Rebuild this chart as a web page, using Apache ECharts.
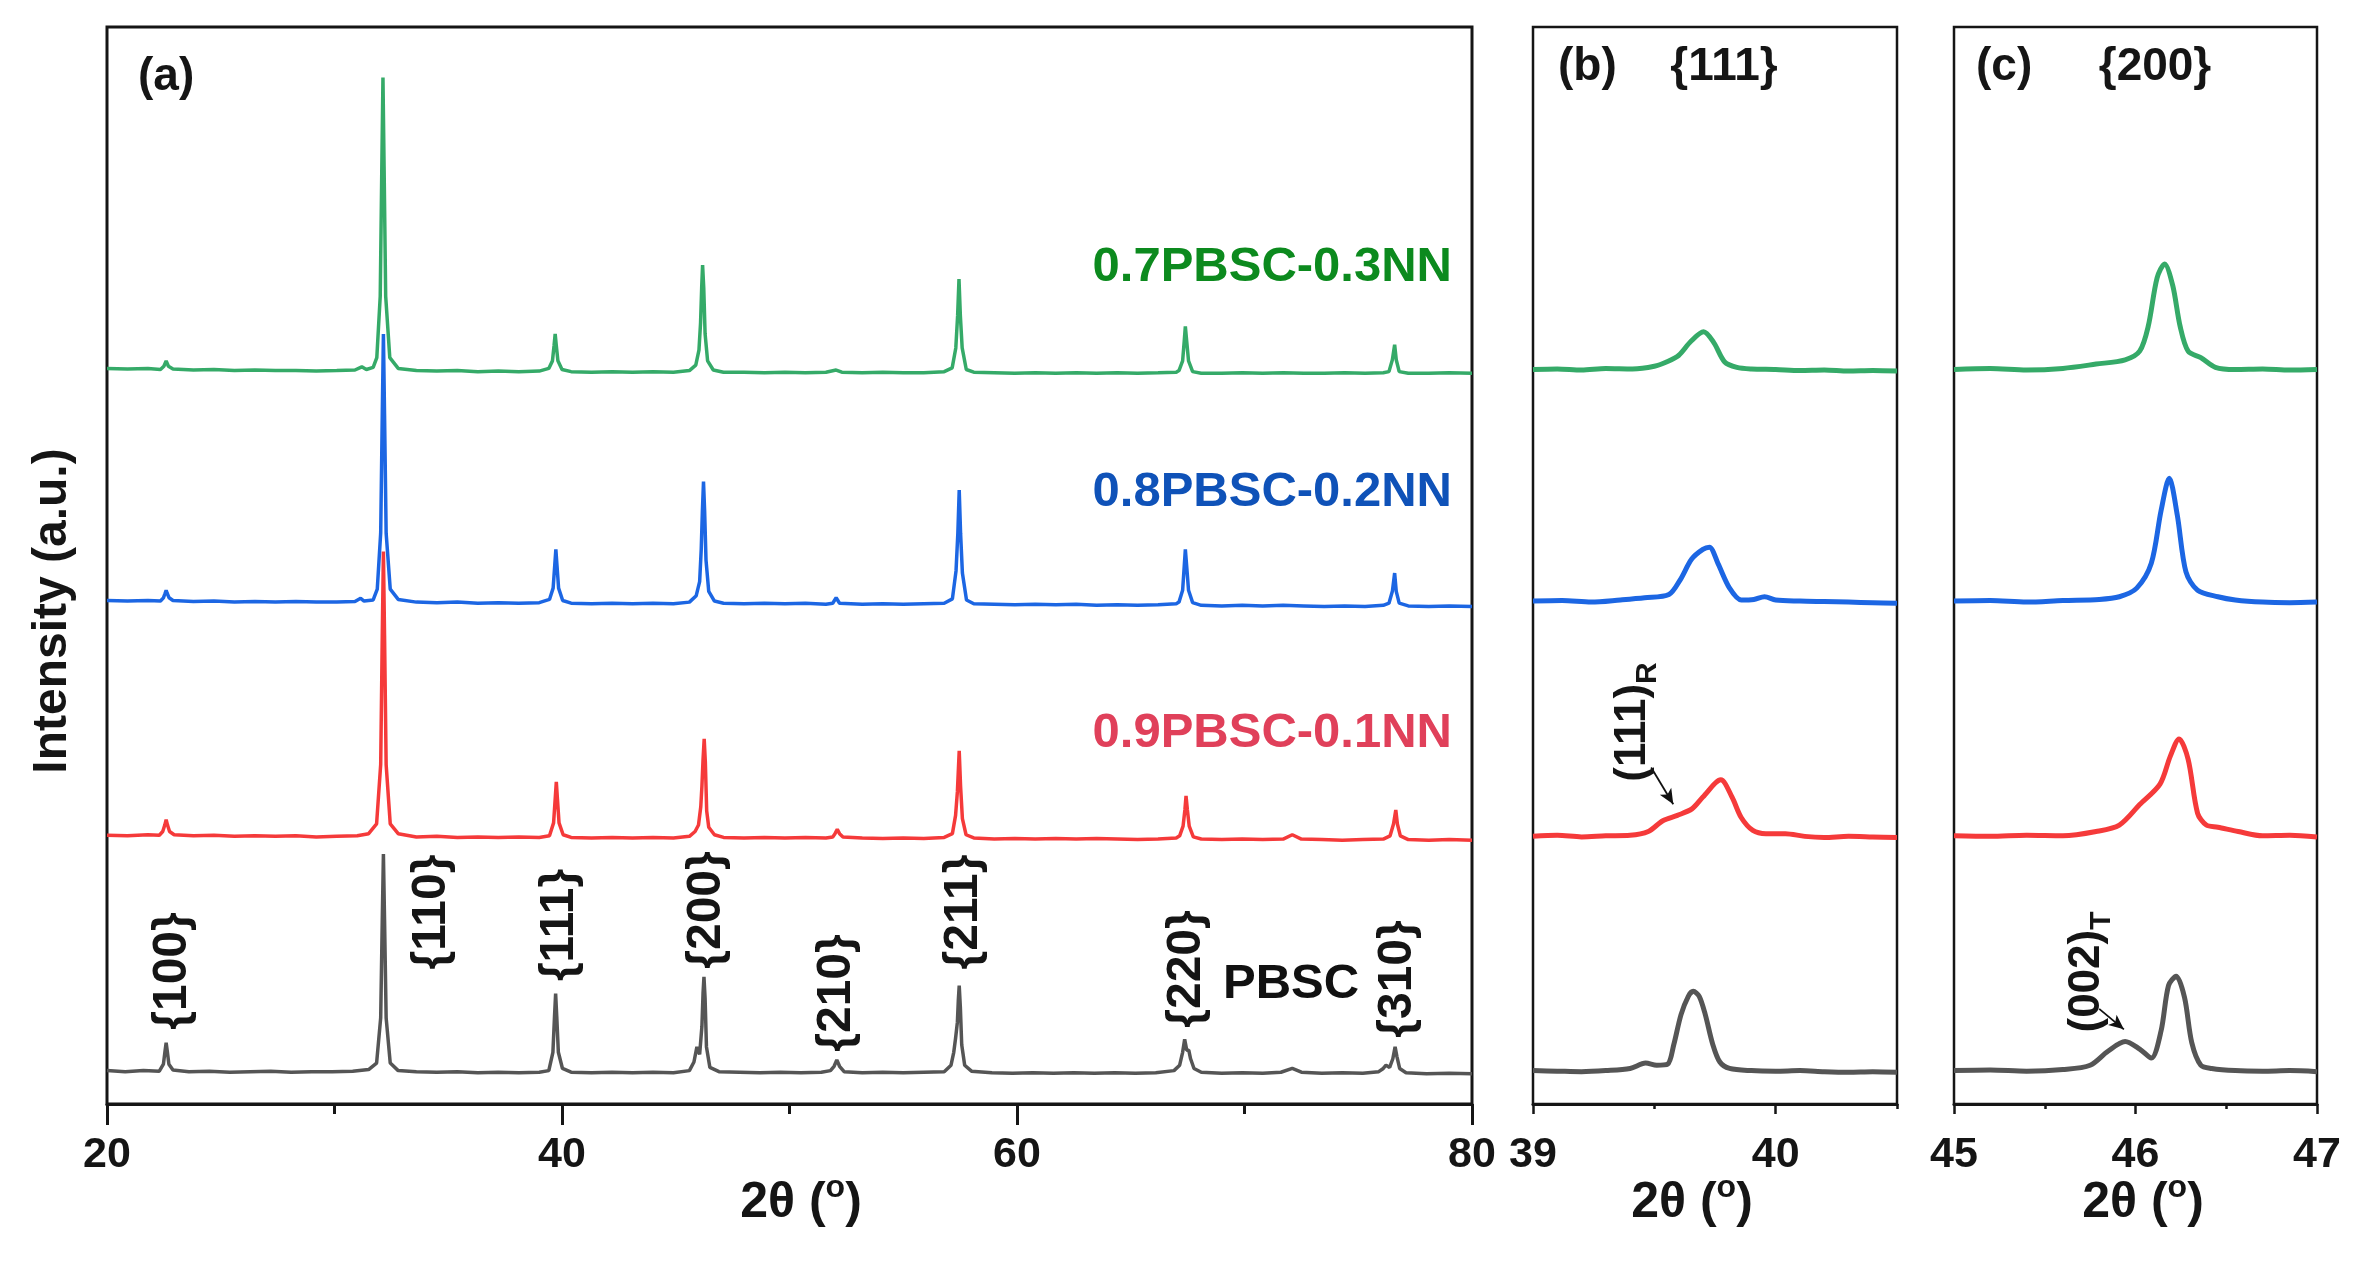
<!DOCTYPE html>
<html>
<head>
<meta charset="utf-8">
<script src="https://cdn.jsdelivr.net/npm/echarts@6/dist/echarts.min.js"></script>
<style>
html,body{margin:0;padding:0;background:#fff;}
#chart{width:2366px;height:1262px;}
</style>
</head>
<body>
<div id="chart"></div>
<script>
// ---------- names / ticks ----------
const seriesNames = ['PBSC', '0.9PBSC-0.1NN', '0.8PBSC-0.2NN', '0.7PBSC-0.3NN'];
const lineColors = ['#555555', '#f53a3a', '#1c66e3', '#35aa68'];
const labelColors = ['#111111', '#e0405a', '#0f52b8', '#0c8a1e'];
const ticksA = [20, 40, 60, 80];
const ticksB = [39, 40];
const ticksC = [45, 46, 47];
const hklLabels = ['{100}', '{110}', '{111}', '{200}', '{210}', '{211}', '{220}', '{310}'];

// ---------- panel (a): full patterns, [2theta, offset intensity] ----------
const a_PBSC = [
[20,3.1],[20.8,3.0],[21.6,3.1],[22.3,3.05],[22.48,3.7],[22.55,4.9],[22.6,5.7],[22.65,4.9],[22.72,3.7],[22.9,3.15],
[23.6,3.0],[24.5,3.05],[25.4,2.95],[26.3,3.0],[27.2,3.05],[28.1,2.95],[29,3.0],[29.9,3.0],[30.8,3.05],[31.5,3.2],
[31.85,3.8],[32.03,8.0],[32.1,17.1],[32.15,23.2],[32.2,17.1],[32.27,8.0],[32.45,3.8],[32.8,3.1],
[33.6,3.0],[34.5,2.95],[35.4,3.0],[36.3,2.9],[37.2,2.95],[38.1,2.9],[39,2.95],[39.42,3.1],
[39.6,4.8],[39.67,8.1],[39.72,10.26],[39.77,8.1],[39.84,4.8],[40.02,3.3],[40.4,2.95],
[41.3,2.9],[42.2,2.95],[43.1,2.9],[44,2.95],[44.9,2.9],[45.6,3.1],
[45.8,3.9],[45.93,5.3],[46.05,4.6],[46.15,7.2],[46.2,10.3],[46.24,11.8],[46.29,9.8],[46.35,5.3],[46.5,3.4],[46.9,3.0],
[47.8,2.95],[48.7,2.9],[49.6,2.95],[50.5,2.9],[51.4,2.95],
[51.8,3.1],[51.96,3.5],[52.08,4.1],[52.2,3.5],[52.4,3.0],
[53.2,2.9],[54.1,2.95],[55,2.9],[55.9,2.95],[56.8,3.0],
[57.1,3.6],[57.22,4.8],[57.3,6.1],[57.38,7.6],[57.42,9.6],[57.46,11.0],[57.51,9.0],[57.57,5.5],[57.7,3.6],[58,3.05],
[58.9,2.9],[59.8,2.85],[60.7,2.9],[61.6,2.85],[62.5,2.9],[63.4,2.85],[64.3,2.9],[65.2,2.85],[66.1,2.9],[66.9,3.1],
[67.15,3.6],[67.28,4.8],[67.37,6.0],[67.46,5.0],[67.55,5.0],[67.63,4.2],[67.78,3.3],[68.1,2.95],
[69,2.85],[69.9,2.9],[70.8,2.85],[71.6,2.95],[72.1,3.3],[72.5,2.95],[73.4,2.85],[74.3,2.9],[75.2,2.85],[75.9,3.0],
[76.1,3.3],[76.22,3.6],[76.38,3.4],[76.52,4.2],[76.62,5.3],[76.7,4.4],[76.82,3.3],[77.1,2.9],
[78,2.8],[79,2.85],[80,2.8]
];
const a_09 = [
[20,24.95],[20.9,24.9],[21.8,25.0],[22.3,24.95],[22.45,25.3],[22.54,25.9],[22.6,26.4],[22.66,25.9],[22.75,25.3],[22.95,25.0],
[23.8,24.9],[24.7,24.95],[25.6,24.85],[26.5,24.9],[27.4,24.85],[28.3,24.9],[29.2,24.8],[30.1,24.85],[31,24.9],[31.5,25.1],
[31.85,26.0],[32.03,31.5],[32.1,43.5],[32.15,51.3],[32.2,43.5],[32.27,31.5],[32.45,26.0],[32.8,25.1],
[33.6,24.8],[34.5,24.85],[35.4,24.75],[36.3,24.8],[37.2,24.75],[38.1,24.8],[39,24.75],[39.45,24.9],
[39.63,26.1],[39.7,28.3],[39.75,29.9],[39.8,28.3],[39.87,26.1],[40.05,25.0],[40.4,24.75],
[41.3,24.7],[42.2,24.75],[43.1,24.7],[44,24.75],[44.9,24.7],[45.6,24.85],
[45.85,25.3],[46.0,25.9],[46.1,27.6],[46.15,29.5],[46.2,32.0],[46.25,33.9],[46.3,31.8],[46.36,27.2],[46.45,25.7],[46.7,25.0],[47.1,24.75],
[48,24.7],[48.9,24.75],[49.8,24.7],[50.7,24.75],[51.6,24.7],
[51.9,24.8],[52.0,25.1],[52.1,25.5],[52.2,25.1],[52.35,24.8],
[53.2,24.7],[54.1,24.65],[55,24.7],[55.9,24.65],[56.8,24.75],
[57.16,25.1],[57.3,26.8],[57.38,29.0],[57.46,32.8],[57.52,29.5],[57.6,26.5],[57.76,25.0],[58.1,24.7],
[59,24.6],[59.9,24.65],[60.8,24.6],[61.7,24.65],[62.6,24.6],[63.5,24.65],[64.4,24.6],[65.3,24.55],[66.2,24.6],[67,24.7],
[67.15,24.9],[67.3,25.8],[67.38,27.3],[67.43,28.6],[67.49,27.3],[67.57,25.8],[67.75,24.8],[68.1,24.6],
[69,24.55],[69.9,24.6],[70.8,24.55],[71.7,24.6],[72.1,25.0],[72.5,24.6],[73.4,24.55],[74.3,24.5],[75.2,24.55],[76.1,24.6],
[76.4,24.9],[76.55,26.0],[76.65,27.3],[76.72,26.0],[76.85,24.9],[77.2,24.55],
[78.1,24.5],[79,24.55],[80,24.5]
];
const a_08 = [
[20,46.75],[20.9,46.7],[21.8,46.75],[22.35,46.7],[22.48,47.0],[22.55,47.4],[22.6,47.7],[22.65,47.4],[22.73,47.0],[22.9,46.75],
[23.8,46.65],[24.7,46.7],[25.6,46.6],[26.5,46.65],[27.4,46.6],[28.3,46.65],[29.2,46.6],[30.1,46.6],[30.9,46.65],[31.15,46.95],[31.3,46.7],[31.7,46.8],
[31.88,47.8],[32.03,53.0],[32.1,64.0],[32.15,71.5],[32.2,64.0],[32.27,53.0],[32.45,47.8],[32.8,46.85],
[33.6,46.6],[34.5,46.55],[35.4,46.6],[36.3,46.5],[37.2,46.55],[38.1,46.5],[39,46.55],[39.45,46.85],
[39.61,47.9],[39.68,50.0],[39.73,51.5],[39.78,50.0],[39.85,47.9],[40.03,46.75],[40.4,46.5],
[41.3,46.45],[42.2,46.5],[43.1,46.45],[44,46.5],[44.9,46.45],[45.6,46.6],
[45.9,47.2],[46.05,48.5],[46.12,51.5],[46.17,55.0],[46.22,57.8],[46.27,55.0],[46.33,50.5],[46.45,47.6],[46.7,46.7],[47.1,46.5],
[48,46.45],[48.9,46.5],[49.8,46.45],[50.7,46.5],[51.6,46.4],
[51.9,46.5],[52.05,47.0],[52.2,46.5],
[53.2,46.4],[54.1,46.45],[55,46.4],[55.9,46.45],[56.8,46.5],
[57.16,46.9],[57.32,49.5],[57.4,53.0],[57.46,57.0],[57.52,53.0],[57.6,49.3],[57.78,46.8],[58.1,46.45],
[59,46.4],[59.9,46.35],[60.8,46.4],[61.7,46.35],[62.6,46.4],[63.5,46.3],[64.4,46.35],[65.3,46.3],[66.2,46.35],[67,46.45],
[67.12,46.6],[67.28,47.7],[67.35,49.9],[67.4,51.5],[67.46,49.9],[67.54,47.7],[67.72,46.55],[68.1,46.3],
[69,46.25],[69.9,46.3],[70.8,46.25],[71.7,46.3],[72.6,46.25],[73.5,46.2],[74.4,46.25],[75.3,46.2],[76.1,46.3],
[76.35,46.5],[76.5,47.6],[76.6,49.3],[76.67,47.6],[76.8,46.5],[77.2,46.25],
[78.1,46.2],[79,46.25],[80,46.2]
];
const a_07 = [
[20,68.3],[20.9,68.25],[21.8,68.3],[22.35,68.2],[22.5,68.5],[22.6,69.0],[22.7,68.5],[22.9,68.25],
[23.8,68.15],[24.7,68.2],[25.6,68.1],[26.5,68.15],[27.4,68.1],[28.3,68.1],[29.2,68.05],[30.1,68.1],[30.9,68.15],[31.2,68.45],[31.4,68.2],[31.7,68.4],
[31.86,69.3],[32.01,75.0],[32.08,87.0],[32.13,95.3],[32.18,87.0],[32.25,75.0],[32.43,69.3],[32.8,68.3],
[33.6,68.1],[34.5,68.05],[35.4,68.1],[36.3,68.0],[37.2,68.05],[38.1,68.0],[39,68.05],[39.42,68.3],
[39.58,69.0],[39.65,70.4],[39.7,71.5],[39.75,70.4],[39.82,69.0],[40.0,68.2],[40.4,68.0],
[41.3,67.95],[42.2,68.0],[43.1,67.95],[44,68.0],[44.9,67.95],[45.6,68.1],
[45.88,68.6],[46.02,70.0],[46.09,72.5],[46.14,75.8],[46.18,77.9],[46.23,75.8],[46.29,71.5],[46.4,69.0],[46.65,68.15],[47.1,67.95],
[48,67.95],[48.9,67.9],[49.8,67.95],[50.7,67.9],[51.6,67.95],[52.05,68.15],[52.3,67.95],
[53.2,67.9],[54.1,67.95],[55,67.9],[55.9,67.9],[56.8,68.0],
[57.15,68.35],[57.31,70.2],[57.39,73.2],[57.45,76.6],[57.51,73.2],[57.59,70.2],[57.77,68.2],[58.1,67.95],
[59,67.9],[59.9,67.85],[60.8,67.9],[61.7,67.85],[62.6,67.9],[63.5,67.85],[64.4,67.9],[65.3,67.85],[66.2,67.9],[67,67.95],
[67.12,68.1],[67.28,69.0],[67.35,70.8],[67.4,72.2],[67.46,70.8],[67.54,69.0],[67.72,68.0],[68.1,67.85],
[69,67.85],[69.9,67.9],[70.8,67.85],[71.7,67.9],[72.6,67.85],[73.5,67.85],[74.4,67.9],[75.3,67.85],[76.1,67.9],
[76.35,68.0],[76.5,69.1],[76.6,70.5],[76.67,69.1],[76.8,68.0],[77.2,67.85],
[78.1,67.85],[79,67.9],[80,67.85]
];

// ---------- panel (b): {111} region ----------
const b_PBSC = [
[39,3.1],[39.1,3.05],[39.2,3.0],[39.3,3.1],[39.4,3.3],[39.464,3.8],[39.51,3.6],[39.555,3.7],[39.58,5.5],[39.61,8.3],
[39.64,10.0],[39.66,10.46],[39.685,10.0],[39.71,8.3],[39.74,5.6],[39.77,3.9],[39.81,3.3],[39.9,3.1],[40.0,3.05],
[40.1,3.1],[40.2,3.0],[40.3,2.95],[40.4,3.0],[40.5,2.95]
];
const b_09 = [
[39,24.85],[39.1,24.95],[39.2,24.8],[39.3,24.9],[39.4,24.95],[39.475,25.3],[39.535,26.3],[39.595,26.8],[39.655,27.4],
[39.70,28.5],[39.774,30.1],[39.82,28.5],[39.858,26.6],[39.906,25.4],[39.96,25.1],[40.04,25.1],[40.12,24.85],
[40.2,24.75],[40.3,24.85],[40.4,24.8],[40.5,24.75]
];
const b_08 = [
[39,46.7],[39.12,46.75],[39.24,46.6],[39.36,46.8],[39.46,47.0],[39.56,47.3],[39.606,48.65],[39.654,50.6],[39.70,51.5],
[39.727,51.7],[39.762,50.2],[39.81,47.9],[39.858,46.8],[39.91,46.85],[39.954,47.1],[40.0,46.8],[40.1,46.7],
[40.2,46.65],[40.3,46.6],[40.4,46.55],[40.5,46.5]
];
const b_07 = [
[39,68.2],[39.1,68.25],[39.2,68.15],[39.3,68.3],[39.41,68.25],[39.5,68.5],[39.55,68.9],[39.6,69.5],[39.65,70.8],
[39.703,71.7],[39.745,70.7],[39.79,68.9],[39.84,68.4],[39.9,68.25],[40.0,68.2],[40.1,68.1],[40.2,68.15],
[40.3,68.05],[40.4,68.1],[40.5,68.05]
];

// ---------- panel (c): {200} region ----------
const c_PBSC = [
[45,3.1],[45.2,3.15],[45.4,3.05],[45.6,3.2],[45.75,3.6],[45.848,4.9],[45.943,5.8],[46.023,5.1],[46.087,4.27],
[46.141,6.8],[46.182,11.0],[46.224,11.86],[46.27,9.9],[46.31,5.7],[46.36,3.6],[46.42,3.3],[46.55,3.1],
[46.7,3.05],[46.85,3.1],[47,3.0]
];
const c_09 = [
[45,24.9],[45.2,24.85],[45.4,24.95],[45.6,24.9],[45.783,25.3],[45.911,25.9],[46.023,27.8],[46.135,29.7],
[46.192,32.3],[46.24,33.9],[46.29,32.0],[46.342,27.0],[46.39,25.9],[46.454,25.7],[46.566,25.3],[46.7,24.9],
[46.85,24.95],[47,24.8]
];
const c_08 = [
[45,46.7],[45.2,46.75],[45.4,46.6],[45.6,46.75],[45.8,46.85],[45.911,47.1],[46.007,47.9],[46.087,50.2],
[46.141,55.1],[46.186,58.1],[46.23,54.7],[46.278,49.4],[46.342,47.7],[46.454,47.1],[46.55,46.8],[46.7,46.6],
[46.85,46.55],[47,46.6]
];
const c_07 = [
[45,68.2],[45.2,68.3],[45.4,68.15],[45.6,68.3],[45.783,68.7],[45.943,69.1],[46.023,69.9],[46.07,72.2],
[46.119,76.7],[46.16,78.0],[46.205,76.0],[46.246,72.2],[46.29,69.9],[46.36,69.3],[46.44,68.4],[46.55,68.2],
[46.7,68.25],[46.85,68.15],[47,68.2]
];

// annotation arrows (data coordinates)
const arrowB = [[39.487, 31.25], [39.578, 27.84]];
const arrowC = [[45.80, 8.83], [45.936, 6.93]];

// ---------- build chart ----------
const FONT = 'Liberation Sans, Arial, sans-serif';
const INK = '#151515';
const chart = echarts.init(document.getElementById('chart'), null, {renderer: 'canvas'});

const gridBox = {top: 27, height: 1077};
const grids = [
  Object.assign({left: 107, width: 1365, show: true, borderColor: INK, borderWidth: 3}, gridBox),
  Object.assign({left: 1533, width: 364, show: true, borderColor: INK, borderWidth: 2.5}, gridBox),
  Object.assign({left: 1954, width: 363, show: true, borderColor: INK, borderWidth: 2.5}, gridBox),
  Object.assign({left: 1533, width: 364, show: false}, gridBox)
];

const labelStyle = {color: INK, fontSize: 43, fontWeight: 'bold', fontFamily: FONT, margin: 30};
function xAx(gi, min, max, interval, extra) {
  return Object.assign({
    type: 'value', gridIndex: gi, min: min, max: max, interval: interval,
    axisLine: {show: true, onZero: false, lineStyle: {color: INK, width: 3}},
    axisTick: {show: true, inside: false, length: 10, lineStyle: {color: INK, width: 3}},
    axisLabel: Object.assign({}, labelStyle),
    splitLine: {show: false}
  }, extra || {});
}
const xAxes = [
  xAx(0, 20, 80, 20, {
    axisTick: {show: true, inside: false, length: 21, lineStyle: {color: INK, width: 3}},
    minorTick: {show: true, splitNumber: 2, length: 10, lineStyle: {color: INK, width: 3}},
    axisLabel: Object.assign({}, labelStyle, {customValues: ticksA})
  }),
  xAx(1, 39, 40.5, 1, {
    axisTick: {show: true, inside: false, length: 10, customValues: ticksB, lineStyle: {color: INK, width: 2.5}},
    axisLabel: Object.assign({}, labelStyle, {customValues: ticksB})
  }),
  xAx(2, 45, 47, 1, {
    axisTick: {show: true, inside: false, length: 10, lineStyle: {color: INK, width: 2.5}},
    minorTick: {show: true, splitNumber: 2, length: 5, lineStyle: {color: INK, width: 2.5}},
    axisLabel: Object.assign({}, labelStyle, {customValues: ticksC})
  }),
  xAx(3, 39, 40.5, 0.5, {
    axisLine: {show: false},
    axisTick: {show: true, inside: false, length: 5, lineStyle: {color: INK, width: 2.5}},
    axisLabel: {show: false}
  })
];
const yAxes = [0, 1, 2, 3].map(gi => ({
  type: 'value', gridIndex: gi, min: 0, max: 100,
  axisLine: {show: false}, axisTick: {show: false}, axisLabel: {show: false}, splitLine: {show: false}
}));

const panelData = [
  [a_PBSC, a_09, a_08, a_07],
  [b_PBSC, b_09, b_08, b_07],
  [c_PBSC, c_09, c_08, c_07]
];
const series = [];
panelData.forEach((set, pi) => {
  set.forEach((d, si) => {
    const s = {
      type: 'line', name: seriesNames[si] + ' ' + pi, xAxisIndex: pi, yAxisIndex: pi,
      data: d, showSymbol: false, symbol: 'none', smooth: pi === 0 ? false : 0.3,
      lineStyle: {color: lineColors[si], width: pi === 0 ? 3.5 : 5},
      z: 2 + si, animation: false, silent: true
    };
    if (pi > 0 && si === (pi === 1 ? 1 : 0)) {
      const arr = pi === 1 ? arrowB : arrowC;
      s.markLine = {
        silent: true, symbol: ['none', 'arrow'], symbolSize: [10, 15],
        label: {show: false},
        lineStyle: {color: '#111', width: 1.8, type: 'solid'},
        data: [[{coord: arr[0]}, {coord: arr[1]}]]
      };
    }
    series.push(s);
  });
});

function txt(x, y, text, opts) {
  return {
    type: 'text', x: x, y: y, rotation: (opts && opts.rot) || 0, z: 50, silent: true,
    style: Object.assign({
      text: text, fill: (opts && opts.fill) || INK,
      font: 'bold ' + ((opts && opts.size) || 46) + 'px ' + FONT,
      align: (opts && opts.align) || 'center', verticalAlign: 'middle'
    }, (opts && opts.rich) ? {rich: opts.rich} : {})
  };
}
const R90 = Math.PI / 2;
const hklPos = [[173, 971], [432, 912], [560, 925], [707, 910], [837, 993], [964, 912], [1187, 969], [1398, 979]];
const supRich = {
  m: {fontSize: 50, fontWeight: 'bold', fontFamily: FONT, lineHeight: 62, verticalAlign: 'middle', fill: INK, color: INK},
  s: {fontSize: 32, fontWeight: 'bold', fontFamily: FONT, lineHeight: 62, verticalAlign: 'top', fill: INK, color: INK}
};
const subRich = {
  m: {fontSize: 44, fontWeight: 'bold', fontFamily: FONT, lineHeight: 60, verticalAlign: 'middle', fill: INK, color: INK},
  s: {fontSize: 30, fontWeight: 'bold', fontFamily: FONT, lineHeight: 60, verticalAlign: 'bottom', fill: INK, color: INK}
};
const graphics = [
  txt(53, 611, 'Intensity (a.u.)', {rot: R90, size: 48}),
  txt(138, 77, '(a)', {align: 'left', size: 46}),
  txt(1558, 67, '(b)', {align: 'left', size: 46}),
  txt(1724, 67, '{111}', {size: 46}),
  txt(1976, 67, '(c)', {align: 'left', size: 46}),
  txt(2155, 67, '{200}', {size: 46}),
  txt(1452, 267, seriesNames[3], {align: 'right', size: 49, fill: labelColors[3]}),
  txt(1452, 492, seriesNames[2], {align: 'right', size: 49, fill: labelColors[2]}),
  txt(1452, 733, seriesNames[1], {align: 'right', size: 49, fill: labelColors[1]}),
  txt(1223, 984, seriesNames[0], {align: 'left', size: 49, fill: labelColors[0]}),
  txt(801, 1203, '{m|2θ (}{s|o}{m|)}', {rich: supRich}),
  txt(1692, 1203, '{m|2θ (}{s|o}{m|)}', {rich: supRich}),
  txt(2143, 1203, '{m|2θ (}{s|o}{m|)}', {rich: supRich}),
  txt(1633, 722, '{m|(111)}{s|R}', {rot: R90, rich: subRich}),
  txt(2087, 972, '{m|(002)}{s|T}', {rot: R90, rich: subRich})
];
hklLabels.forEach((t, i) => graphics.push(txt(hklPos[i][0], hklPos[i][1], t, {rot: R90, size: 48})));

chart.setOption({
  backgroundColor: '#ffffff',
  animation: false,
  textStyle: {fontFamily: FONT},
  grid: grids,
  xAxis: xAxes,
  yAxis: yAxes,
  series: series,
  graphic: graphics
});
</script>
</body>
</html>
